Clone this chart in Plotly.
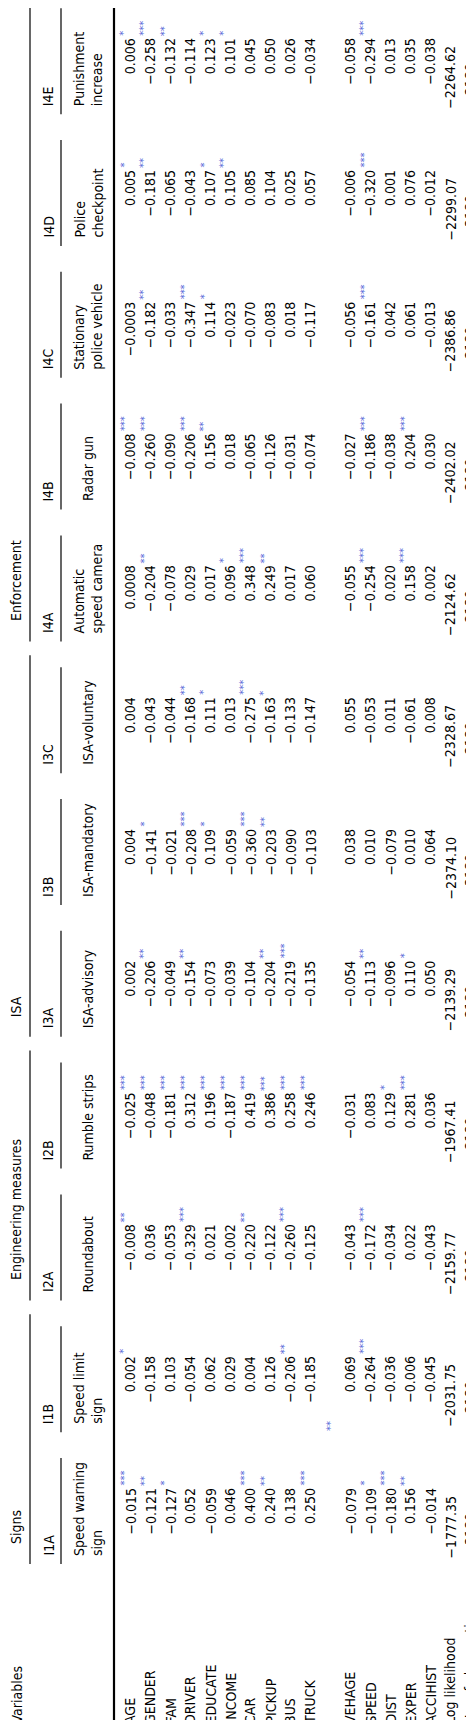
import plotly.graph_objects as go

# table data (table is printed rotated 90 degrees counter-clockwise)
variables = ["AGE", "GENDER", "FAM", "DRIVER", "EDUCATE", "INCOME", "CAR", "PICKUP", "BUS", "TRUCK",
             "VEHAGE", "SPEED", "DIST", "EXPER", "ACCIHIST"]
groups = ["Signs", "Engineering measures", "ISA", "Enforcement"]
group_cols = [["I1A", "I1B"], ["I2A", "I2B"], ["I3A", "I3B", "I3C"], ["I4A", "I4B", "I4C", "I4D", "I4E"]]
col_codes = ["I1A", "I1B", "I2A", "I2B", "I3A", "I3B", "I3C", "I4A", "I4B", "I4C", "I4D", "I4E"]
col_names = ["Speed warning<br>sign", "Speed limit<br>sign", "Roundabout", "Rumble strips",
             "ISA-advisory", "ISA-mandatory", "ISA-voluntary", "Automatic<br>speed camera",
             "Radar gun", "Stationary<br>police vehicle", "Police<br>checkpoint", "Punishment<br>increase"]

I1A = ["−0.015***", "−0.121**", "−0.127*", "0.052", "−0.059", "0.046", "0.400***", "0.240**", "0.138", "0.250***",
       "−0.079", "−0.109*", "−0.180***", "0.156**", "−0.014"]
I1B = ["0.002*", "−0.158", "0.103", "−0.054", "0.062", "0.029", "0.004", "0.126", "−0.206**", "−0.185",
       "0.069", "−0.264***", "−0.036", "−0.006", "−0.045"]
I2A = ["−0.008**", "0.036", "−0.053", "−0.329***", "0.021", "−0.002", "−0.220**", "−0.122", "−0.260***", "−0.125",
       "−0.043", "−0.172***", "−0.034", "0.022", "−0.043"]
I2B = ["−0.025***", "−0.048***", "−0.181***", "0.312***", "0.196***", "−0.187***", "0.419***", "0.386***", "0.258***", "0.246***",
       "−0.031", "0.083", "0.129*", "0.281***", "0.036"]
I3A = ["0.002", "−0.206**", "−0.049", "−0.154**", "−0.073", "−0.039", "−0.104", "−0.204**", "−0.219***", "−0.135",
       "−0.054", "−0.113**", "−0.096", "0.110*", "0.050"]
I3B = ["0.004", "−0.141*", "−0.021", "−0.208***", "0.109*", "−0.059", "−0.360***", "−0.203**", "−0.090", "−0.103",
       "0.038", "0.010", "−0.079", "0.010", "0.064"]
I3C = ["0.004", "−0.043", "−0.044", "−0.168**", "0.111*", "0.013", "−0.275***", "−0.163*", "−0.133", "−0.147",
       "0.055", "−0.053", "0.011", "−0.061", "0.008"]
I4A = ["0.0008", "−0.204**", "−0.078", "0.029", "0.017", "0.096*", "0.348***", "0.249**", "0.017", "0.060",
       "−0.055", "−0.254***", "0.020", "0.158***", "0.002"]
I4B = ["−0.008***", "−0.260***", "−0.090", "−0.206***", "0.156**", "0.018", "−0.065", "−0.126", "−0.031", "−0.074",
       "−0.027", "−0.186***", "−0.038", "0.204***", "0.030"]
I4C = ["−0.0003", "−0.182**", "−0.033", "−0.347***", "0.114*", "−0.023", "−0.070", "−0.083", "0.018", "−0.117",
       "−0.056", "−0.161***", "0.042", "0.061", "−0.013"]
I4D = ["0.005*", "−0.181**", "−0.065", "−0.043", "0.107*", "0.105**", "0.085", "0.104", "0.025", "0.057",
       "−0.006", "−0.320***", "0.001", "0.076", "−0.012"]
I4E = ["0.006*", "−0.258***", "−0.132**", "−0.114", "0.123*", "0.101*", "0.045", "0.050", "0.026", "−0.034",
       "−0.058", "−0.294***", "0.013", "0.035", "−0.038"]
log_likelihood = ["−1777.35", "−2031.75", "−2159.77", "−1967.41", "−2139.29", "−2374.10", "−2328.67",
                  "−2124.62", "−2402.02", "−2386.86", "−2299.07", "−2264.62"]
n_obs = ["2180"] * 12

coefs = [I1A, I1B, I2A, I2B, I3A, I3B, I3C, I4A, I4B, I4C, I4D, I4E]

W, H = 474, 1720
FONT = "Liberation Sans Narrow, DejaVu Sans Condensed, sans-serif"
STAR = "#5b6ad8"


def px(x):
    return x / W


def py(y):
    return 1 - y / H


fig = go.Figure()
ann = []
shapes = []


def text(x, y, s, anchor="top", size=14, color="black"):
    ann.append(dict(x=px(x), y=py(y), xref="paper", yref="paper", text=s, textangle=-90,
                    showarrow=False, xanchor="center", yanchor=anchor, align="left",
                    font=dict(family=FONT, size=size, color=color)))


def vline(x, y0, y1, w=1):
    shapes.append(dict(type="line", xref="paper", yref="paper", x0=px(x), x1=px(x),
                       y0=py(y0), y1=py(y1), line=dict(color="black", width=w)))


# layout geometry in pixels
col_bottom = [1550 - i * 131.8 for i in range(12)]
row_x = [122 + 20 * i for i in range(10)] + [342 + 20 * i for i in range(5)]
ll_x, n_x = 442, 462

# rules
vline(106, 0, H, 2.2)
vline(473, 0, H, 1)

# stub column
text(8, 1718, "Variables", anchor="bottom")
for x, v in zip(row_x, variables):
    text(x, 1718, v, anchor="bottom")
text(ll_x, 1718, "Log likelihood", anchor="bottom")
text(n_x, 1718, "No. of observations", anchor="bottom")

# group headers
for g, cols in zip(groups, group_cols):
    i0 = col_codes.index(cols[0])
    i1 = col_codes.index(cols[-1])
    text(8, col_bottom[i0] - 12, g, anchor="bottom")
    vline(22, col_bottom[i0] + 6, max(col_bottom[i1] - 112, 0), 1.2)

# column headers and values
for i, (code, name, vals) in enumerate(zip(col_codes, col_names, coefs)):
    yb = col_bottom[i]
    text(40, yb, code, anchor="bottom")
    text(80, yb, name, anchor="bottom")
    vline(53, yb + 6, max(yb - 100, 0), 1.2)
    top = yb - 72
    for x, v in zip(row_x, vals):
        num = v.rstrip("*")
        stars = v[len(num):]
        text(x, top, num, anchor="top")
        if stars:
            text(x - 6, top + 2, stars, anchor="bottom", size=11, color=STAR)
    text(ll_x, top + 8, log_likelihood[i], anchor="top")
    text(n_x, top + 25, n_obs[i], anchor="top")

# stray significance mark printed between TRUCK and VEHAGE rows
text(322, 1418, "**", anchor="middle", size=11, color=STAR)

fig.update_layout(
    width=W, height=H,
    margin=dict(l=0, r=0, t=0, b=0),
    paper_bgcolor="white", plot_bgcolor="white",
    xaxis=dict(visible=False), yaxis=dict(visible=False),
    annotations=ann, shapes=shapes,
    showlegend=False,
)

fig.write_html("out.html")
